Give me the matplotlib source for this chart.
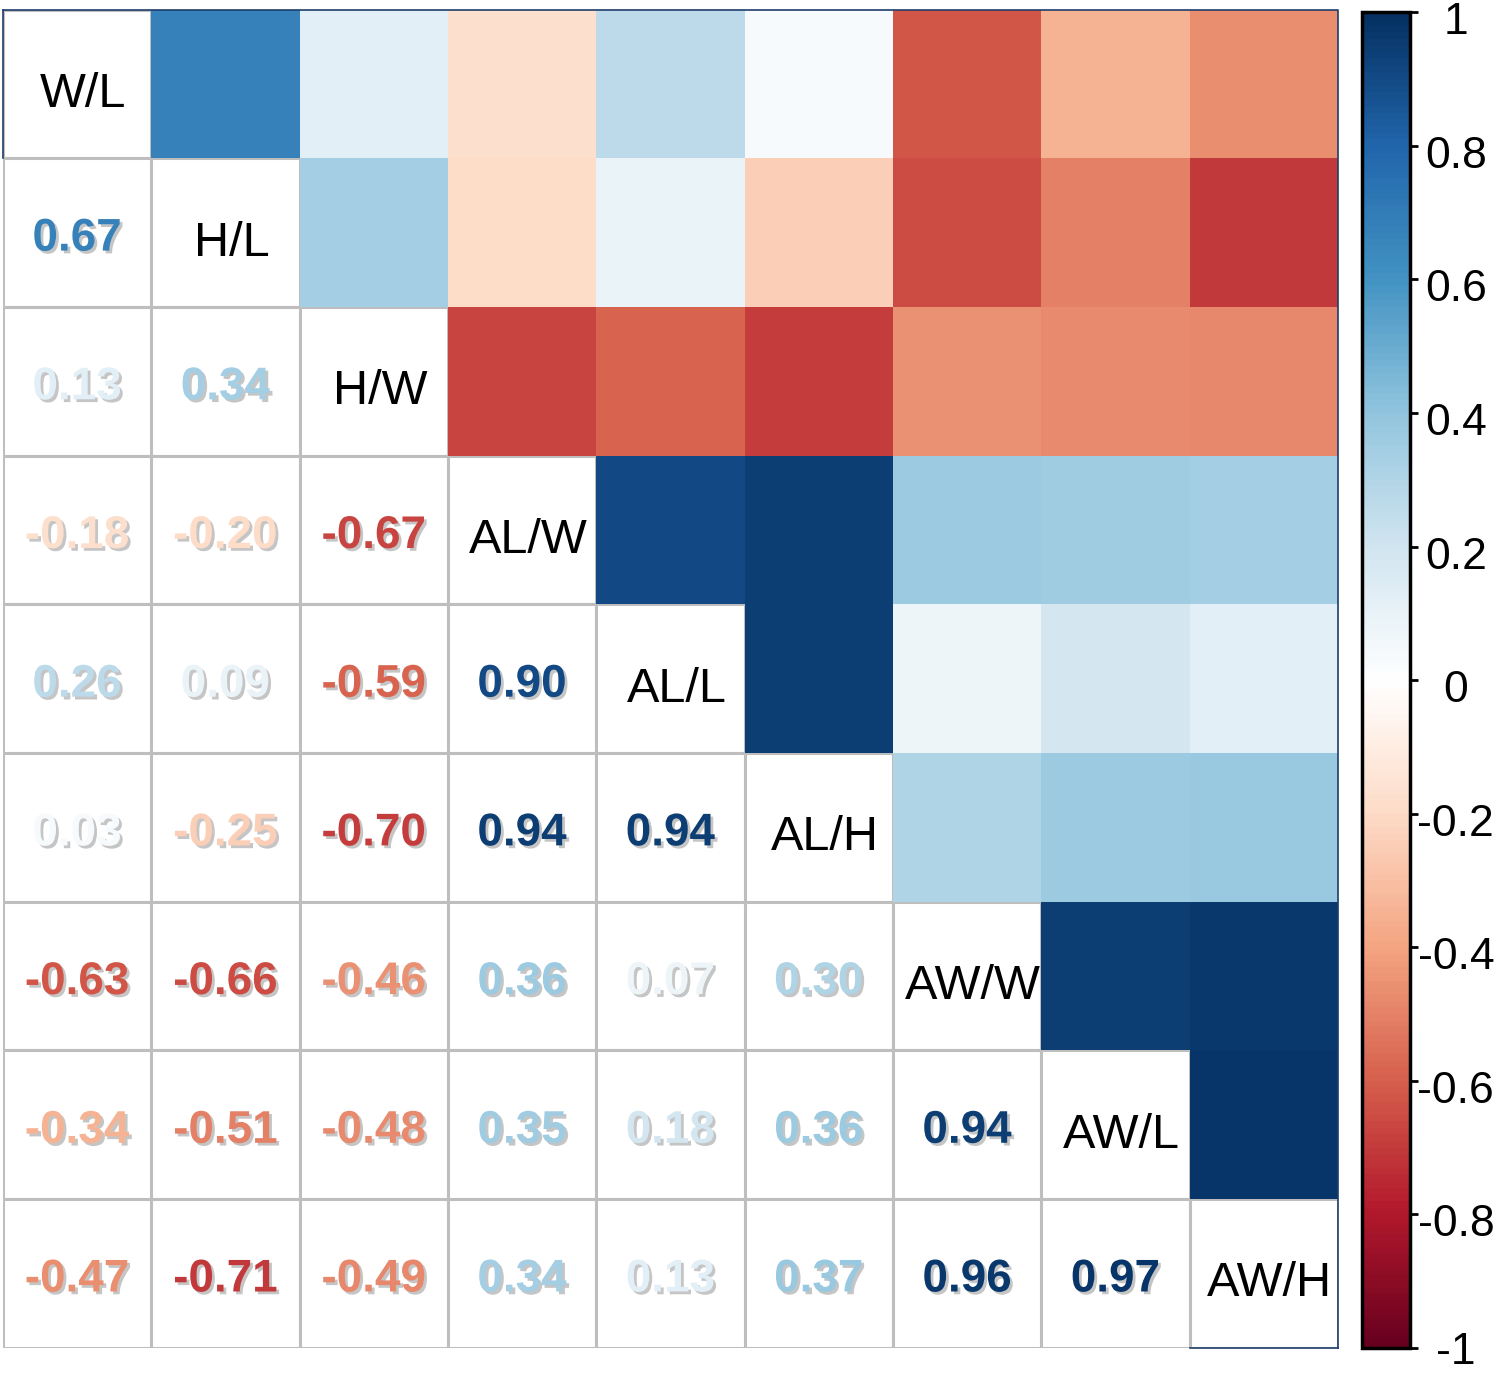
import numpy as np
import matplotlib
matplotlib.use("Agg")
import matplotlib.pyplot as plt
import matplotlib.patheffects as pe
import matplotlib.transforms as mtransforms
from matplotlib.colors import LinearSegmentedColormap, Normalize
from matplotlib.patches import Rectangle

plt.rcParams['font.family'] = ['Liberation Sans', 'DejaVu Sans']
plt.rcParams['axes.unicode_minus'] = False

labels = ["W/L", "H/L", "H/W", "AL/W", "AL/L", "AL/H", "AW/W", "AW/L", "AW/H"]

# lower triangle rows (below diagonal)
lower = [
    [],
    [0.67],
    [0.13, 0.34],
    [-0.18, -0.20, -0.67],
    [0.26, 0.09, -0.59, 0.90],
    [0.03, -0.25, -0.70, 0.94, 0.94],
    [-0.63, -0.66, -0.46, 0.36, 0.07, 0.30],
    [-0.34, -0.51, -0.48, 0.35, 0.18, 0.36, 0.94],
    [-0.47, -0.71, -0.49, 0.34, 0.13, 0.37, 0.96, 0.97],
]

cbar_ticks = [-1, -0.8, -0.6, -0.4, -0.2, 0, 0.2, 0.4, 0.6, 0.8, 1]
cbar_labels = ["-1", "-0.8", "-0.6", "-0.4", "-0.2", "0", "0.2", "0.4", "0.6", "0.8", "1"]

n = len(labels)
corr = np.eye(n)
for i, row in enumerate(lower):
    for j, v in enumerate(row):
        corr[i, j] = v
        corr[j, i] = v

cmap = LinearSegmentedColormap.from_list("corr", [
    "#67001F", "#B2182B", "#D6604D", "#F4A582", "#FDDBC7", "#FFFFFF",
    "#D1E5F0", "#92C5DE", "#4393C3", "#2166AC", "#053061"], N=200)
norm = Normalize(-1, 1)

fig = plt.figure(figsize=(15, 13.74), dpi=100)
ax = fig.add_axes([0.002, 0.019, 0.890, 0.974])
ax.set_xlim(0, n)
ax.set_ylim(n, 0)
ax.axis('off')

shadow = [pe.SimplePatchShadow(offset=(2, -2), shadow_rgbFace='0.5', alpha=0.45), pe.Normal()]

# grey grid for lower triangle incl. diagonal
for i in range(n):
    for j in range(i + 1):
        ax.add_patch(Rectangle((j, i), 1, 1, facecolor='white', edgecolor='#BEBEBE', lw=2.2, zorder=1))

# coloured squares for upper triangle
for i in range(n):
    for j in range(i + 1, n):
        ax.add_patch(Rectangle((j, i), 1, 1, facecolor=cmap(norm(corr[i, j])), edgecolor='none', zorder=2))

# thin outline on the upper part
ax.plot([0, n, n], [0, 0, n], color='#1F3D6B', lw=1.2, zorder=3, clip_on=False)
ax.plot([0, 0], [0, 1], color='#1F3D6B', lw=1.2, zorder=3, clip_on=False)
ax.plot([n - 1, n], [n, n], color='#1F3D6B', lw=1.2, zorder=3, clip_on=False)

for i in range(n):
    for j in range(i):
        v = corr[i, j]
        ax.text(j + 0.5, i + 0.54, "%.2f" % v, ha='center', va='center', fontsize=33,
                fontweight='bold', color=cmap(norm(v)), path_effects=shadow, zorder=4)
    ax.text(i + 0.54, i + 0.57, labels[i], ha='center', va='center', fontsize=35,
            color='black', zorder=4)

cax = fig.add_axes([0.908, 0.019, 0.032, 0.972])
sm = matplotlib.cm.ScalarMappable(norm=norm, cmap=cmap)
cb = fig.colorbar(sm, cax=cax, ticks=cbar_ticks)
cb.ax.set_yticklabels(cbar_labels)
cb.outline.set_linewidth(2.5)
cb.ax.tick_params(labelsize=32, length=6, width=2, direction='out', pad=27)
shift = mtransforms.ScaledTranslation(0, -0.06, fig.dpi_scale_trans)
for t in cb.ax.get_yticklabels():
    t.set_horizontalalignment('center')
    if t.get_text() != "-1":
        t.set_transform(t.get_transform() + shift)

fig.savefig("out.png", dpi=100)
